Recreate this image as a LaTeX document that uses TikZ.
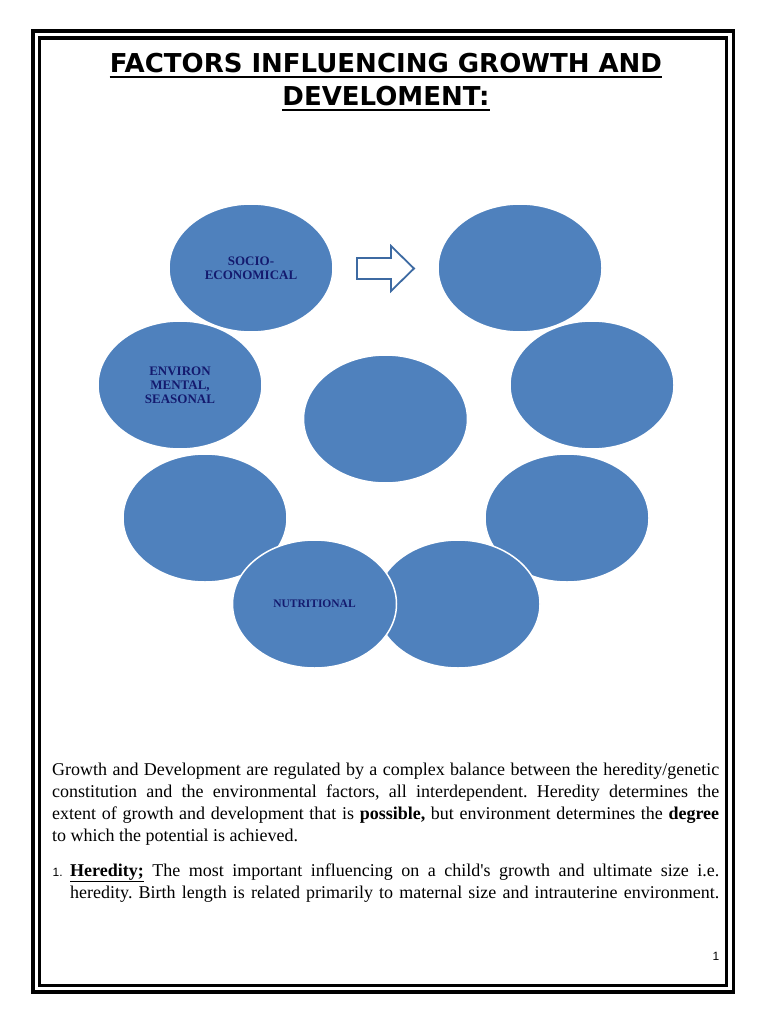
\documentclass[tikz,border=0pt]{standalone}
\usepackage{fontspec}
\setmainfont{Liberation Serif}
\newfontfamily\titlefont{DejaVu Sans}
\newfontfamily\numfont{Liberation Sans}
\usepackage{tikz}
\usetikzlibrary{shapes.geometric}
\usepackage{xcolor}
\definecolor{bubblefill}{HTML}{4F81BD}
\definecolor{bubbleink}{HTML}{141A6E}
\definecolor{arrowline}{HTML}{3D6AA2}
\frenchspacing
\tikzset{
    frameouter/.style={
        line width=3.6pt,
        color=black
    },
    frameinner/.style={
        line width=3.2pt,
        color=black
    },
    bubble/.style={
        ellipse,
        fill=bubblefill,
        draw=white,
        line width=1.5pt,
        minimum width=164pt,
        minimum height=128pt,
        inner sep=0pt,
        align=center,
        text=bubbleink,
        font=\bfseries\fontsize{13}{14.2}\selectfont
    },
    blockarrow/.style={
        draw=arrowline,
        fill=white,
        line width=1.8pt,
        line join=miter
    },
    titleline/.style={
        font=\titlefont\bfseries\fontsize{26}{30}\selectfont,
        inner sep=0pt,
        anchor=base
    },
    titlerule/.style={
        line width=2pt
    },
    bodyline/.style={
        font=\fontsize{18}{22}\selectfont,
        inner sep=0pt,
        anchor=base west
    }
}

\begin{document}
\begin{tikzpicture}[x=1pt,y=-1pt]

    \useasboundingbox (0,0) rectangle (768,1024);

    % Cadre
    \draw[frameouter]
        (32.7,31.3) rectangle (733.3,991.7);

    \draw[frameinner]
        (39.7,38) rectangle (726.7,985.3);

    % Titre
    \node[titleline] (title1)
        at (386,73)
        {FACTORS INFLUENCING GROWTH AND};

    \node[titleline] (title2)
        at (386,106)
        {DEVELOMENT:};

    \draw[titlerule]
        ([yshift=-4pt]title1.base west)
        -- ([yshift=-4pt]title1.base east);

    \draw[titlerule]
        ([yshift=-4pt]title2.base west)
        -- ([yshift=-4pt]title2.base east);

    % Ellipses
    \node[bubble] (socio) at (251,268) {SOCIO-\\ECONOMICAL};
    \node[bubble] (topright) at (520,268) {};
    \node[bubble] (right) at (592,385) {};
    \node[bubble] (rightlow) at (567,518) {};
    \node[bubble] (bottomright) at (458,604) {};
    \node[bubble] (leftlow) at (205,518) {};
    \node[
        bubble,
        font=\bfseries\fontsize{11.5}{13}\selectfont
    ] (nutrition) at (314.5,604) {NUTRITIONAL};
    \node[bubble] (environ) at (180,385) {ENVIRON\\MENTAL,\\SEASONAL};
    \node[bubble] (centre) at (385.5,419) {};

    % Fleche
    \draw[blockarrow]
        (357,258) -- (391,258) -- (391,246)
        -- (414,268.5) -- (391,291) -- (391,279)
        -- (357,279) -- cycle;

    % Texte
    \node[bodyline] (line1)
        at (52,775)
        {\makebox[667pt][s]{Growth and Development are regulated by a complex balance between the heredity/genetic}};

    \node[bodyline] (line2)
        at (52,797.3)
        {\makebox[667pt][s]{constitution and the environmental factors, all interdependent. Heredity determines the}};

    \node[bodyline] (line3)
        at (52,819.5)
        {\makebox[667pt][s]{extent of growth and development that is \textbf{possible,} but environment determines the \textbf{degree}}};

    \node[bodyline] (line4)
        at (52,841.7)
        {to which the potential is achieved.};

    \node[
        anchor=base west,
        inner sep=0pt,
        font=\numfont\fontsize{12}{14}\selectfont
    ] (num1)
        at (52.5,876)
        {1.};

    \node[bodyline] (item1)
        at (70,876)
        {\makebox[649pt][s]{\textbf{\underline{Heredity;}} The most important influencing on a child\textquotesingle s growth and ultimate size i.e.}};

    \node[bodyline] (item2)
        at (70,898.3)
        {\makebox[649pt][s]{heredity. Birth length is related primarily to maternal size and intrauterine environment.}};

    % Numero de page
    \node[
        anchor=base,
        inner sep=0pt,
        font=\numfont\fontsize{12}{14}\selectfont
    ] (pagenum)
        at (716,960)
        {1};

\end{tikzpicture}
\end{document}
